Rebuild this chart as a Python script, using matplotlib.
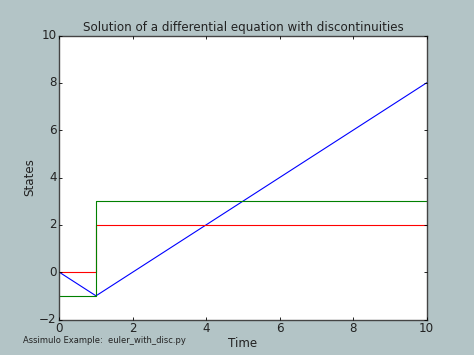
import matplotlib
matplotlib.use('Agg')
import matplotlib.pyplot as plt

# data
t = [0, 1, 1, 10]
y_blue = [0, -1, -1, 8]
y_red = [0, 0, 2, 2]
y_green = [-1, -1, 3, 3]

plt.style.use('classic')
fs = 8.6

fig = plt.figure(figsize=(4.74, 3.55), dpi=100, facecolor='#b3c4c6')
ax = fig.add_axes([0.125, 0.1, 0.775, 0.8])

ax.plot(t, y_blue, color='b', lw=0.8)
ax.plot(t, y_red, color='r', lw=0.8)
ax.plot(t, y_green, color='g', lw=0.8)

ax.set_xlim(0, 10)
ax.set_ylim(-2, 10)
ax.set_xticks([0, 2, 4, 6, 8, 10])
ax.set_yticks([-2, 0, 2, 4, 6, 8, 10])
ax.tick_params(labelsize=fs, length=2.4, width=0.6, direction='in', pad=2,
               labelcolor='#222222')
for s in ax.spines.values():
    s.set_linewidth(1.0)
    s.set_color('#444444')

ax.set_title('Solution of a differential equation with discontinuities', fontsize=fs, pad=3,
             color='#222222')
ax.set_xlabel('Time', fontsize=fs, labelpad=1, color='#222222')
ax.set_ylabel('States', fontsize=fs, labelpad=2, color='#222222')

fig.text(0.048, 0.04, 'Assimulo Example:  euler_with_disc.py', fontsize=6.0,
         ha='left', va='center', color='#222222')

fig.savefig('out.png', dpi=100, facecolor=fig.get_facecolor())
